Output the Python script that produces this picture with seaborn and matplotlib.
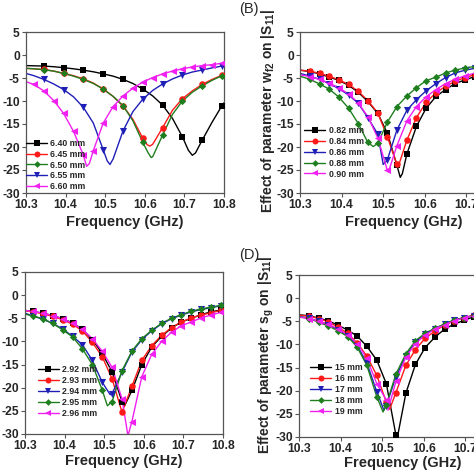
import numpy as np
import pandas as pd
import seaborn as sns
import matplotlib.pyplot as plt
from matplotlib.lines import Line2D

sns.set_style("ticks")
plt.rcParams['font.family'] = ['Liberation Sans', 'DejaVu Sans']
plt.rcParams['font.weight'] = 'bold'
plt.rcParams['mathtext.default'] = 'regular'
plt.rcParams['axes.unicode_minus'] = False

# marker positions (GHz)
grid_ac = [10.32, 10.345, 10.37, 10.395, 10.42, 10.445, 10.47, 10.495, 10.52, 10.545,
           10.57, 10.595, 10.62, 10.645, 10.67, 10.695, 10.72, 10.745, 10.77, 10.795]
grid_bd = [10.324, 10.347, 10.37, 10.393, 10.417, 10.44, 10.463, 10.487, 10.51, 10.533,
           10.557, 10.58, 10.603, 10.627, 10.65, 10.673, 10.697, 10.72, 10.743, 10.767, 10.79]

# (A) |S11| in dB at grid_ac, plus extra points (ends and dip bottoms)
a_labels = ['6.40 mm', '6.45 mm', '6.50 mm', '6.55 mm', '6.60 mm']
a_640 = [-2.35, -2.4, -2.55, -2.75, -3.0, -3.3, -3.65, -4.1, -4.6, -5.3, -6.2, -7.4, -8.9, -10.9, -13.8, -17.8, -21.8, -18.5, -14.6, -11.0]
a_645 = [-3.0, -3.15, -3.5, -4.0, -4.5, -5.2, -6.1, -7.4, -9.0, -11.1, -14.0, -18.1, -19.4, -15.8, -12.0, -9.5, -7.8, -6.4, -5.3, -4.4]
a_650 = [-3.0, -3.2, -3.5, -4.0, -4.6, -5.3, -6.2, -7.4, -9.0, -11.0, -14.3, -19.0, -22.1, -17.4, -12.9, -10.0, -8.1, -6.7, -5.5, -4.5]
a_655 = [-4.5, -5.3, -6.3, -7.5, -9.1, -11.4, -14.8, -20.6, -22.6, -16.5, -12.3, -9.6, -7.7, -6.3, -5.2, -4.35, -3.7, -3.26, -2.8, -2.4]
a_660 = [-6.4, -7.8, -9.9, -12.7, -16.6, -21.8, -20.8, -14.8, -11.2, -8.9, -7.2, -5.9, -4.9, -4.1, -3.5, -3.0, -2.6, -2.3, -2.1, -1.8]
a_640_ext = [(10.3, -2.3), (10.71, -20.7), (10.728, -21.3), (10.8, -10.4)]
a_645_ext = [(10.3, -2.9), (10.606, -19.5), (10.613, -19.8), (10.8, -4.3)]
a_650_ext = [(10.3, -2.9), (10.608, -21.2), (10.616, -22.3), (10.8, -4.4)]
a_655_ext = [(10.3, -4.0), (10.505, -23.0), (10.512, -23.8), (10.8, -2.35)]
a_660_ext = [(10.3, -5.8), (10.453, -24.2), (10.46, -23.6), (10.8, -1.75)]

# (B) at grid_bd
b_labels = ['0.82 mm', '0.84 mm', '0.86 mm', '0.88 mm', '0.90 mm']
b_082 = [-3.6, -4.1, -4.8, -5.5, -6.6, -8.1, -10.1, -12.7, -17.0, -24.0, -21.5, -15.5, -11.6, -9.0, -7.5, -6.2, -5.4, -4.7, -4.2, -3.8, -3.4]
b_084 = [-3.5, -4.0, -4.6, -5.4, -6.4, -7.9, -9.9, -12.6, -17.8, -23.8, -18.5, -13.6, -10.3, -8.2, -6.8, -5.7, -4.9, -4.3, -3.9, -3.5, -3.2]
b_086 = [-4.6, -5.3, -6.2, -7.3, -8.7, -10.5, -13.6, -17.2, -22.8, -16.3, -12.0, -9.7, -7.8, -6.2, -4.9, -3.9, -3.3, -2.9, -2.6, -2.4, -2.2]
b_088 = [-5.3, -6.3, -7.4, -9.1, -11.6, -14.9, -19.0, -19.2, -14.6, -11.2, -8.9, -7.1, -5.6, -4.8, -3.9, -3.3, -2.8, -2.5, -2.3, -2.1, -1.9]
b_090 = [-4.7, -5.3, -6.1, -7.1, -8.5, -10.4, -13.4, -18.0, -25.1, -19.7, -14.3, -11.2, -9.1, -7.5, -6.2, -5.3, -4.5, -4.0, -3.6, -3.3, -3.0]
b_082_ext = [(10.3, -3.3), (10.541, -26.6), (10.546, -25.8), (10.8, -3.3)]
b_084_ext = [(10.3, -3.3), (10.536, -24.3), (10.8, -3.1)]
b_086_ext = [(10.3, -4.0), (10.5, -23.8), (10.8, -2.1)]
b_088_ext = [(10.3, -4.6), (10.476, -19.9), (10.8, -1.9)]
b_090_ext = [(10.3, -4.3), (10.513, -25.3), (10.8, -2.9)]

# (C) at grid_ac
c_labels = ['2.92 mm', '2.93 mm', '2.94 mm', '2.95 mm', '2.96 mm']
c_292 = [-3.5, -3.9, -4.4, -5.1, -6.0, -7.4, -9.6, -12.6, -16.6, -23.0, -20.6, -15.0, -11.2, -8.9, -7.1, -5.8, -5.0, -4.2, -3.6, -3.2]
c_293 = [-3.6, -4.0, -4.6, -5.3, -6.3, -7.7, -10.2, -13.3, -18.1, -25.3, -19.7, -14.1, -10.9, -8.7, -7.0, -5.8, -4.9, -4.3, -3.8, -3.3]
c_294 = [-4.5, -5.2, -6.1, -7.3, -8.9, -10.7, -14.1, -18.8, -21.3, -16.6, -12.3, -9.6, -7.7, -6.2, -5.1, -4.3, -3.6, -3.1, -2.7, -2.3]
c_295 = [-4.5, -5.1, -6.1, -7.5, -9.0, -11.6, -15.0, -20.5, -23.0, -16.3, -12.1, -9.4, -7.6, -6.1, -5.0, -4.2, -3.5, -2.95, -2.6, -2.2]
c_296 = [-3.5, -3.9, -4.4, -5.1, -6.1, -7.4, -9.4, -12.1, -15.6, -22.4, -27.3, -17.6, -12.8, -10.0, -8.0, -6.6, -5.8, -4.9, -4.3, -3.7]
c_292_ext = [(10.3, -3.3), (10.551, -24.0), (10.8, -3.1)]
c_293_ext = [(10.3, -3.4), (10.8, -3.2)]
c_294_ext = [(10.3, -3.9), (10.515, -21.5), (10.8, -2.2)]
c_295_ext = [(10.3, -4.1), (10.508, -23.9), (10.8, -2.1)]
c_296_ext = [(10.3, -3.3), (10.56, -30.4), (10.8, -3.6)]

# (D) at grid_bd
d_labels = ['15 mm', '16 mm', '17 mm', '18 mm', '19 mm']
d_15 = [-3.8, -4.3, -4.9, -5.8, -6.9, -8.2, -10.4, -13.4, -18.5, -29.6, -20.5, -14.3, -10.7, -8.4, -6.7, -5.6, -4.8, -4.0, -3.6, -3.2, -2.9]
d_16 = [-3.9, -4.4, -5.1, -6.2, -7.6, -9.7, -12.5, -16.7, -22.5, -20.4, -14.5, -11.1, -8.7, -7.1, -5.8, -4.9, -4.2, -3.7, -3.4, -3.1, -2.8]
d_17 = [-4.3, -5.0, -5.7, -6.8, -8.1, -10.3, -14.0, -20.2, -23.2, -17.0, -12.4, -9.5, -7.8, -6.6, -5.6, -4.8, -4.2, -3.8, -3.4, -3.1, -2.8]
d_18 = [-4.4, -5.2, -6.0, -7.0, -8.3, -10.6, -14.5, -21.3, -23.0, -16.4, -12.0, -9.2, -7.6, -6.5, -5.6, -4.7, -4.2, -3.8, -3.4, -3.1, -2.8]
d_19 = [-4.4, -5.0, -5.6, -6.6, -7.9, -9.8, -13.0, -18.5, -22.0, -18.0, -12.7, -9.8, -8.0, -6.7, -5.8, -4.9, -4.3, -3.8, -3.4, -3.1, -2.8]
d_15_ext = [(10.3, -3.6), (10.536, -30.3), (10.8, -2.8)]
d_16_ext = [(10.3, -3.7), (10.518, -24.0), (10.8, -2.7)]
d_17_ext = [(10.3, -4.0), (10.504, -24.2), (10.8, -2.7)]
d_18_ext = [(10.3, -4.0), (10.502, -24.6), (10.8, -2.7)]
d_19_ext = [(10.3, -4.1), (10.514, -24.2), (10.8, -2.7)]

# style per trace: black square, red circle, blue down-triangle, green diamond, magenta left-triangle
colors = ['#000000', '#ff1a1a', '#1f1fb8', '#1f7f1f', '#f020f0']
markers = ['s', 'o', 'v', 'D', '<']
msizes = [17, 22, 26, 14, 26]
lsizes = [3.8, 4.3, 4.8, 3.4, 4.8]

W = H = 474
fig = plt.figure(figsize=(W / 100, H / 100), dpi=100)


def box(l, t, r, b):
    return [l / W, 1 - b / H, (r - l) / W, (b - t) / H]


def panel(ax, grid, labels, series, exts, every, anchor, order, xpad, ylabel=None):
    for lab, vals, ext, k, ev in zip(labels, series, exts, order, every):
        line = pd.DataFrame({'f': list(grid) + [p[0] for p in ext],
                             's': list(vals) + [p[1] for p in ext]}).sort_values('f')
        sns.lineplot(data=line, x='f', y='s', color=colors[k], lw=1.0, estimator=None, sort=True, ax=ax)
        pts = pd.DataFrame({'f': grid, 's': vals}).iloc[ev[0]::ev[1]]
        sns.scatterplot(data=pts, x='f', y='s', color=colors[k], marker=markers[k], s=msizes[k],
                        linewidth=0, ax=ax, zorder=3)
    handles = [Line2D([0], [0], color=colors[k], marker=markers[k], markersize=lsizes[k], lw=1.0,
                      markeredgewidth=0) for k in order]
    ax.legend(handles, labels, loc='lower left', bbox_to_anchor=anchor, frameon=False,
              prop={'size': 6.3, 'weight': 'bold'}, handlelength=2.4, handletextpad=0.4,
              labelspacing=0.22, borderpad=0, borderaxespad=0)
    xt = [10.3, 10.4, 10.5, 10.6, 10.7, 10.8]
    ax.set_xlim(10.3, 10.8)
    ax.set_ylim(-30, 5)
    ax.set_xticks(xt)
    ax.set_xticklabels([f'{v:.1f}' for v in xt])
    ax.set_yticks(list(range(-30, 6, 5)))
    ax.tick_params(labelsize=8.7, direction='out', length=3, width=0.8, color='#555555', pad=1.5)
    for sp in ax.spines.values():
        sp.set_color('#555555')
        sp.set_linewidth(0.9)
    ax.set_xlabel('Frequency (GHz)', fontsize=10.5, fontweight='bold', labelpad=xpad)
    if ylabel:
        ax.set_ylabel(ylabel, fontsize=10, fontweight='bold')
        ax.yaxis.set_label_coords(-0.11, 0.51)
    else:
        ax.set_ylabel('')


axA = fig.add_axes(box(26, 32, 224, 193))
axB = fig.add_axes(box(300, 32, 508, 193))
axC = fig.add_axes(box(25, 272, 223, 434))
axD = fig.add_axes(box(299, 275, 507, 437))

panel(axA, grid_ac, a_labels, [a_640, a_645, a_650, a_655, a_660],
      [a_640_ext, a_645_ext, a_650_ext, a_655_ext, a_660_ext],
      [(1, 2), (1, 2), (1, 2), (1, 2), (0, 1)], (0.0, 0.01), [0, 1, 3, 2, 4], 3)
panel(axB, grid_bd, b_labels, [b_082, b_084, b_086, b_088, b_090],
      [b_082_ext, b_084_ext, b_086_ext, b_088_ext, b_090_ext],
      [(0, 1)] * 5, (0.02, 0.09), [0, 1, 2, 3, 4], 3, 'Effect of parameter w$_{f2}$ on |S$_{11}$|')
panel(axC, grid_ac, c_labels, [c_292, c_293, c_294, c_295, c_296],
      [c_292_ext, c_293_ext, c_294_ext, c_295_ext, c_296_ext],
      [(0, 1)] * 5, (0.065, 0.1), [0, 1, 2, 3, 4], 1)
panel(axD, grid_bd, d_labels, [d_15, d_16, d_17, d_18, d_19],
      [d_15_ext, d_16_ext, d_17_ext, d_18_ext, d_19_ext],
      [(0, 1)] * 5, (0.053, 0.13), [0, 1, 2, 3, 4], 0.5, 'Effect of parameter s$_{g}$ on |S$_{11}$|')

fig.text(239 / W, 1 - 9 / H, '(B)', fontsize=10.5, fontweight='normal', ha='left', va='center')
fig.text(239 / W, 1 - 255 / H, '(D)', fontsize=10.5, fontweight='normal', ha='left', va='center')

fig.savefig('out.png', dpi=100)
